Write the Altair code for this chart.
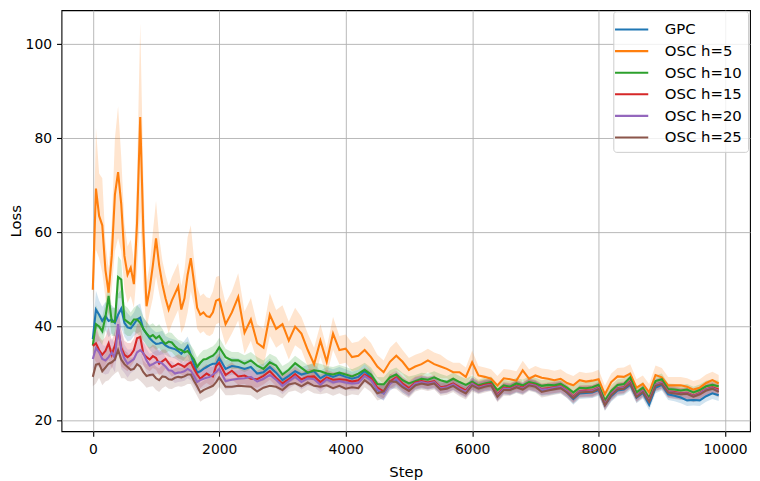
import altair as alt
import pandas as pd

# ---------------- data ----------------
steps = list(range(0, 2001, 50)) + list(range(2100, 9901, 100))

series_names = ["GPC", "OSC h=5", "OSC h=10", "OSC h=15", "OSC h=20", "OSC h=25"]
series_colors = ["#1f77b4", "#ff7f0e", "#2ca02c", "#d62728", "#9467bd", "#8c564b"]

gpc = [
    37.3, 43.6, 42.5, 41.2, 42.2, 41.2, 41.5, 40.8, 42.5, 43.8,
    40.8, 39.8, 39.6, 40.5, 41.5, 41.9, 39.4, 38.5, 37.5, 36.8,
    36.3, 36.4, 36.6, 36.0, 35.6, 35.4, 35.2, 34.8, 34.2, 35.0,
    35.9, 34.0, 32.0, 30.2, 30.5, 31.0, 31.4, 31.8, 32.1, 32.1, 33.3,
    31.0, 31.6, 31.4, 31.0, 31.4, 30.0, 30.3, 31.4, 30.2, 28.6,
    29.5, 30.5, 29.8, 30.2, 30.5, 29.0, 29.8, 29.3, 29.8, 29.3,
    28.9, 29.3, 30.5, 29.2, 26.5, 25.8, 28.0, 28.6, 27.5, 26.7,
    27.8, 28.2, 27.9, 28.2, 27.0, 27.3, 27.8, 27.0, 26.3, 27.8,
    27.0, 27.5, 27.6, 25.4, 26.8, 26.6, 27.2, 26.8, 27.7, 27.3,
    26.5, 26.6, 26.8, 27.1, 26.0, 24.6, 25.8, 25.9, 26.0, 26.5,
    23.3, 25.2, 26.4, 26.6, 27.6, 24.9, 25.9, 23.4, 27.0, 27.6,
    25.6, 25.3, 24.9, 24.3, 24.4, 24.3, 25.2, 25.8, 25.4,
]

osc_h5 = [
    47.8, 69.3, 63.5, 61.5, 52.0, 47.2, 55.0, 68.0, 72.8, 66.0,
    55.0, 51.0, 52.5, 49.0, 62.0, 84.5, 60.0, 44.3, 48.0, 53.0,
    58.7, 53.0, 49.0, 46.0, 43.6, 45.5, 47.0, 48.5, 43.6, 46.0,
    51.0, 54.5, 49.5, 44.0, 42.5, 43.0, 42.2, 42.0, 43.0, 45.5, 45.8,
    40.5, 43.0, 46.3, 38.7, 41.5, 36.5, 35.5, 42.5, 39.5, 40.5,
    37.0, 40.0, 38.5, 35.0, 32.0, 37.0, 32.5, 38.5, 35.0, 35.3,
    33.5, 33.8, 35.0, 33.5, 31.5, 30.3, 32.5, 33.8, 32.5, 30.8,
    31.5, 32.0, 32.8, 32.0, 31.5, 31.0, 30.3, 30.3, 29.3, 32.4,
    29.6, 29.3, 28.9, 27.5, 29.0, 28.8, 28.5, 30.7, 28.9, 29.6,
    29.1, 28.9, 28.6, 28.9, 28.0, 27.5, 28.6, 28.3, 28.5, 28.8,
    25.6, 28.2, 29.4, 29.3, 30.0, 27.0, 27.8, 26.0, 29.7, 29.2,
    27.5, 27.5, 27.5, 27.2, 26.6, 27.0, 28.0, 28.6, 27.9,
]

osc_h10 = [
    36.0, 40.5, 40.0, 39.0, 42.0, 46.5, 41.0, 41.0, 50.5, 50.0,
    41.5, 41.0, 40.5, 41.5, 41.5, 40.8, 39.5, 38.5, 37.8, 38.2,
    37.5, 38.0, 37.0, 36.3, 36.8, 36.6, 35.8, 35.2, 35.0, 34.5,
    34.8, 34.0, 33.0, 31.4, 32.3, 33.0, 33.1, 33.5, 33.8, 34.5, 35.6,
    33.5, 32.8, 32.8, 32.1, 32.8, 31.7, 31.0, 32.4, 31.7, 29.8,
    30.8, 32.2, 31.2, 30.2, 30.7, 30.5, 30.0, 29.8, 30.2, 29.8,
    29.4, 30.0, 30.8, 29.8, 27.8, 27.7, 29.2, 29.8, 28.6, 27.9,
    28.4, 28.9, 28.7, 29.2, 28.6, 28.2, 28.9, 28.2, 27.6, 28.3,
    27.5, 27.9, 28.2, 26.5, 27.5, 27.2, 27.9, 27.5, 28.2, 27.9,
    27.4, 27.6, 27.5, 27.8, 27.0, 26.0, 27.0, 26.9, 27.1, 27.6,
    24.3, 26.3, 27.6, 27.8, 29.2, 26.0, 27.0, 24.8, 28.4, 28.8,
    26.7, 26.6, 26.4, 26.6, 26.0, 26.5, 27.3, 27.6, 27.3,
]

osc_h15 = [
    35.9, 36.4, 35.0, 34.0, 34.8, 36.4, 34.0, 36.0, 39.5, 35.5,
    34.0, 33.5, 34.0, 35.0, 37.5, 37.8, 34.2, 33.5, 33.0, 33.7,
    33.3, 32.1, 32.6, 33.1, 32.2, 31.4, 31.7, 32.1, 31.8, 31.4,
    32.0, 32.4, 31.0, 29.8, 28.9, 29.5, 30.0, 29.6, 29.4, 31.6, 32.3,
    29.7, 30.6, 29.4, 29.6, 28.9, 28.8, 29.5, 30.5, 29.1, 27.9,
    28.8, 29.9, 28.8, 29.3, 29.4, 28.2, 29.2, 28.7, 28.8, 28.7,
    28.3, 28.6, 29.8, 29.0, 27.0, 26.2, 28.3, 29.2, 27.9, 26.9,
    28.1, 28.4, 28.1, 28.4, 27.1, 27.3, 27.9, 27.1, 26.4, 27.9,
    27.2, 27.6, 27.8, 25.5, 27.0, 26.8, 27.4, 27.0, 27.8, 27.5,
    26.7, 26.9, 27.1, 27.3, 26.4, 25.1, 26.3, 26.4, 26.4, 27.0,
    23.6, 25.7, 26.9, 27.1, 28.3, 25.3, 26.4, 24.3, 27.6, 28.1,
    26.2, 26.1, 25.8, 25.9, 25.3, 25.9, 26.7, 27.1, 26.6,
]

osc_h20 = [
    33.1, 35.4, 34.5, 33.1, 32.8, 33.5, 34.5, 33.3, 40.5, 35.0,
    33.2, 32.1, 32.6, 33.1, 34.5, 35.0, 34.3, 32.8, 31.7, 32.0,
    32.4, 32.5, 32.1, 31.5, 30.7, 30.6, 30.0, 30.2, 30.3, 30.5,
    31.0, 30.6, 29.5, 28.2, 28.6, 28.9, 29.1, 29.3, 29.8, 30.3, 31.0,
    28.4, 28.7, 28.9, 29.0, 29.3, 28.3, 28.9, 29.7, 28.7, 27.4,
    28.4, 29.3, 28.2, 29.0, 28.8, 27.6, 28.8, 28.1, 28.4, 28.1,
    27.9, 28.0, 29.5, 28.6, 26.6, 25.8, 27.8, 28.9, 27.5, 26.5,
    27.9, 28.2, 27.9, 28.2, 26.9, 27.1, 27.7, 26.8, 26.1, 27.8,
    27.0, 27.4, 27.6, 25.3, 26.8, 26.7, 27.3, 26.8, 27.7, 27.4,
    26.6, 26.7, 27.0, 27.2, 26.3, 24.9, 26.2, 26.2, 26.3, 26.9,
    23.5, 25.6, 26.8, 27.0, 28.1, 25.2, 26.3, 24.2, 27.6, 28.0,
    26.1, 25.9, 25.7, 25.8, 25.2, 25.8, 26.6, 26.9, 26.3,
]

osc_h25 = [
    29.3, 31.9, 32.1, 30.5, 31.3, 32.1, 32.4, 33.0, 35.0, 33.0,
    32.0, 31.4, 30.8, 31.0, 32.0, 31.5, 30.3, 29.5, 29.7, 29.8,
    29.0, 28.6, 29.4, 29.3, 28.8, 28.7, 29.1, 29.3, 29.2, 29.4,
    29.8, 29.8, 28.5, 27.3, 26.0, 26.5, 26.8, 27.1, 27.4, 28.2, 29.2,
    27.2, 27.2, 27.4, 27.3, 27.2, 26.2, 27.0, 27.4, 27.2, 26.5,
    27.7, 28.0, 27.3, 28.1, 27.4, 27.2, 27.5, 26.9, 27.4, 26.8,
    27.1, 26.9, 28.6, 27.6, 25.8, 26.2, 28.4, 28.2, 27.1, 26.3,
    27.5, 27.9, 27.6, 27.9, 26.6, 26.8, 27.4, 26.5, 25.8, 27.5,
    26.8, 27.2, 27.5, 25.1, 26.5, 26.5, 27.1, 26.6, 27.5, 27.2,
    26.1, 26.4, 26.7, 26.9, 26.0, 24.8, 26.0, 26.1, 26.1, 26.7,
    23.3, 25.4, 26.6, 26.8, 27.9, 25.0, 26.1, 24.0, 27.4, 27.8,
    26.0, 25.8, 25.6, 25.7, 25.1, 25.6, 26.4, 26.8, 26.1,
]

# half-width of the shaded band around each line
spread_h5 = [
    3, 13, 9, 10, 6, 5, 7, 12, 14, 10,
    7, 6, 6, 5, 10, 20, 12, 5, 5, 7,
    8, 6, 5, 5, 5, 5, 5, 5, 5, 6,
    8, 7, 5, 4.5, 4, 4, 4, 4, 4.5, 5, 5,
    4.5, 4.5, 5, 4.5, 4.5, 4, 4, 4.5, 4, 4,
    4, 4, 3.5, 3.5, 3.5, 3.5, 3, 3.5, 3, 3,
    3, 3, 3, 3, 2.5, 2.5, 3, 3, 2.5, 2.5,
    2.5, 2.5, 2.5, 2.5, 2.5, 2, 2, 2, 2, 2.5,
    2, 2, 2, 2, 2, 2, 2, 2, 2, 2,
    2, 2, 2, 2, 2, 2, 1.8, 1.8, 1.8, 2,
    1.8, 1.8, 1.8, 2, 2, 1.8, 1.8, 1.8, 2, 2,
    1.8, 1.8, 1.8, 1.8, 1.8, 1.8, 1.8, 1.8, 1.8,
]

spread_others = [
    2, 4, 3, 3, 3, 3.5, 3, 3, 4.5, 4,
    3, 3, 2.5, 2.5, 3, 3, 2.5, 2.5, 2.5, 2.5,
    2.5, 2.5, 2.5, 2, 2, 2, 2, 2, 2, 2,
    2, 2, 2, 2, 2, 2, 2, 2, 2, 2, 2,
    1.8, 1.8, 1.8, 1.8, 1.8, 1.8, 1.8, 1.8, 1.8, 1.8,
    1.6, 1.6, 1.6, 1.6, 1.6, 1.6, 1.6, 1.6, 1.6, 1.6,
    1.5, 1.5, 1.5, 1.5, 1.5, 1.5, 1.5, 1.5, 1.5, 1.5,
    1.3, 1.3, 1.3, 1.3, 1.3, 1.3, 1.3, 1.3, 1.3, 1.3,
    1.2, 1.2, 1.2, 1.2, 1.2, 1.2, 1.2, 1.2, 1.2, 1.2,
    1.2, 1.2, 1.2, 1.2, 1.2, 1.2, 1.2, 1.2, 1.2, 1.2,
    1.2, 1.2, 1.2, 1.2, 1.2, 1.2, 1.2, 1.2, 1.2, 1.2,
    1.2, 1.2, 1.2, 1.2, 1.2, 1.2, 1.2, 1.2, 1.2,
]

x_ticks = [0, 2000, 4000, 6000, 8000, 10000]
y_ticks = [20, 40, 60, 80, 100]

# ---------------- table ----------------
values_by_series = [gpc, osc_h5, osc_h10, osc_h15, osc_h20, osc_h25]
spreads = [spread_others, spread_h5, spread_others, spread_others, spread_others, spread_others]
rows = []
for name, vals, sd in zip(series_names, values_by_series, spreads):
    for s, v, d in zip(steps, vals, sd):
        rows.append({"Step": s, "Loss": v, "lo": v - d, "hi": v + d, "series": name})
df = pd.DataFrame(rows)

FONT = "DejaVu Sans"
x_scale = alt.Scale(domain=[-495, 10395], nice=False, zero=False)
y_scale = alt.Scale(domain=[17.75, 107.2], nice=False, zero=False)
color_scale = alt.Scale(domain=series_names, range=series_colors)

legend = alt.Legend(
    title=None, orient="none", legendX=557, legendY=1,
    symbolType="M-1.5,0H1.5", symbolSize=500, symbolStrokeWidth=2.1,
    symbolOpacity=1, symbolFillColor="transparent",
    labelFont=FONT, labelFontSize=15, labelColor="black", labelOffset=21,
    rowPadding=0.8, padding=6, cornerRadius=3,
    strokeColor="#cccccc", fillColor="rgba(255,255,255,0.8)",
)

x_enc = alt.X("Step:Q", scale=x_scale,
              axis=alt.Axis(values=x_ticks, format="d", title="Step"))
y_axis = alt.Axis(values=y_ticks, title="Loss", titleX=-38, titleBaseline="bottom")

bands = alt.Chart(df).mark_area(opacity=0.2, clip=True).encode(
    x=x_enc,
    y=alt.Y("lo:Q", scale=y_scale, axis=y_axis),
    y2="hi:Q",
    color=alt.Color("series:N", scale=color_scale, legend=legend),
)

lines = alt.Chart(df).mark_line(strokeWidth=2.1, clip=True).encode(
    x=x_enc,
    y=alt.Y("Loss:Q", scale=y_scale, axis=y_axis),
    color=alt.Color("series:N", scale=color_scale, legend=legend),
)

chart = alt.layer(bands, lines).properties(
    width=695, height=425,
    autosize=alt.AutoSizeParams(type="none"),
    padding={"left": 54, "top": 0, "right": 2, "bottom": 48},
).configure_view(
    stroke="black", strokeWidth=1.1,
).configure_axis(
    labelFont=FONT, labelFontSize=14, labelColor="black",
    titleFont=FONT, titleFontSize=15, titleFontWeight="normal", titleColor="black",
    tickColor="black", tickSize=5, tickWidth=1.1,
    domain=False, grid=True, gridColor="#b0b0b0", gridWidth=0.9,
).configure_axisX(labelPadding=6, titlePadding=9).configure_axisY(labelPadding=5)

chart.save("out.html", embed_options={"renderer": "svg", "actions": False})
